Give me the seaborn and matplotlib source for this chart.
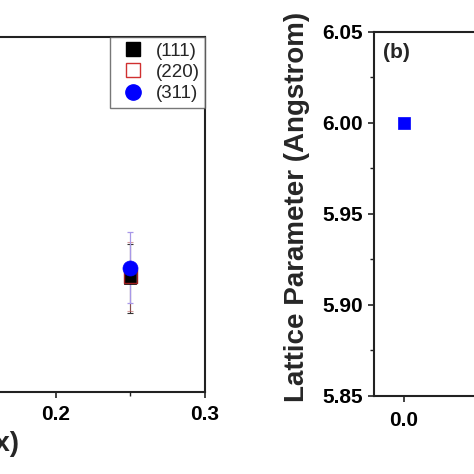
import matplotlib
matplotlib.use("Agg")
import matplotlib.pyplot as plt
from matplotlib.lines import Line2D
from matplotlib.ticker import MultipleLocator, FormatStrFormatter
import seaborn as sns

# panel (a): lattice parameter per reflection vs composition
comp_x = [0.25]
lp_111 = [5.914]
err_111 = [0.0195]
lp_220 = [5.915]
err_220 = [0.0195]
lp_311 = [5.920]
err_311 = [0.020]

# panel (b): lattice parameter vs composition
comp_b = [0.0]
lp_b = [6.00]

sns.set_style("ticks")
plt.rcParams["font.family"] = ["Liberation Sans", "DejaVu Sans"]

fig = plt.figure(figsize=(4.74, 4.74), dpi=100)
ax1 = fig.add_axes([-0.5738, 0.1730, 1.0063, 0.7489])
ax2 = fig.add_axes([0.7890, 0.1646, 1.0063, 0.7679])

# --- panel (a) ---
ax1.errorbar(comp_x, lp_111, yerr=err_111, fmt="none", ecolor="#333333",
             elinewidth=0.8, capsize=2.5, capthick=0.8, zorder=2)
ax1.errorbar(comp_x, lp_220, yerr=err_220, fmt="none", ecolor="#c06060",
             elinewidth=0.8, capsize=2.5, capthick=0.8, alpha=0.6, zorder=2)
ax1.errorbar(comp_x, lp_311, yerr=err_311, fmt="none", ecolor="#a898e8",
             elinewidth=0.9, capsize=2.5, capthick=0.9, zorder=2)
sns.scatterplot(x=comp_x, y=lp_111, ax=ax1, marker="s", s=81, color="black",
                edgecolor="black", linewidth=0.5, zorder=3)
sns.scatterplot(x=comp_x, y=lp_220, ax=ax1, marker="s", s=81, color="none",
                edgecolor="#a02020", linewidth=1.0, zorder=4)
sns.scatterplot(x=comp_x, y=lp_311, ax=ax1, marker="o", s=117, color="#0000ff",
                edgecolor="#0000ff", linewidth=0.5, zorder=5)

ax1.set_xlim(-0.02, 0.3)
ax1.set_ylim(5.85, 6.05)
ax1.xaxis.set_major_locator(MultipleLocator(0.1))
ax1.xaxis.set_minor_locator(MultipleLocator(0.05))
ax1.xaxis.set_major_formatter(FormatStrFormatter("%.1f"))
ax1.set_xlabel("Composition (x)", fontsize=20, fontweight="bold", ha="right", va="center")
ax1.xaxis.set_label_coords(0.610, -0.146)

handles = [
    Line2D([], [], ls="none", marker="s", ms=9.5, mfc="black", mec="black"),
    Line2D([], [], ls="none", marker="s", ms=9.5, mfc="white", mec="#d03030", mew=1.0),
    Line2D([], [], ls="none", marker="o", ms=11, mfc="#0000ff", mec="#0000ff"),
]
leg = ax1.legend(handles, ["(111)", "(220)", "(311)"], loc="upper right",
                 bbox_to_anchor=(1, 1), borderaxespad=0, fontsize=13.5,
                 frameon=True, fancybox=False, borderpad=0.3, handlelength=1.8,
                 handletextpad=0.3, labelspacing=0.22)
leg.get_frame().set_edgecolor("#555555")
leg.get_frame().set_linewidth(1.0)

# --- panel (b) ---
sns.scatterplot(x=comp_b, y=lp_b, ax=ax2, marker="s", s=81, color="#0000ff",
                edgecolor="#0000ff", linewidth=0.5, zorder=3)
ax2.set_xlim(-0.02, 0.3)
ax2.set_ylim(5.85, 6.05)
ax2.xaxis.set_major_locator(MultipleLocator(0.1))
ax2.xaxis.set_minor_locator(MultipleLocator(0.05))
ax2.xaxis.set_major_formatter(FormatStrFormatter("%.1f"))
ax2.yaxis.set_major_locator(MultipleLocator(0.05))
ax2.yaxis.set_minor_locator(MultipleLocator(0.025))
ax2.yaxis.set_major_formatter(FormatStrFormatter("%.2f"))
ax2.set_ylabel("Lattice Parameter (Angstrom)", fontsize=20, fontweight="bold", va="center")
ax2.yaxis.set_label_coords(-0.161, 0.519)
ax2.text(0.048, 0.945, "(b)", transform=ax2.transAxes, fontsize=15,
         fontweight="bold", ha="center", va="center")

for ax in (ax1, ax2):
    for sp in ax.spines.values():
        sp.set_visible(True)
        sp.set_color("#222222")
        sp.set_linewidth(1.5)
    ax.tick_params(which="major", direction="out", length=4.5, width=1.2,
                   colors="#222222", labelsize=15, labelcolor="black")
    ax.tick_params(which="minor", direction="out", length=2.8, width=1.0,
                   colors="#222222")
    ax.tick_params(top=False, right=False, which="both")
    for lab in ax.get_xticklabels() + ax.get_yticklabels():
        lab.set_fontweight("bold")
ax1.tick_params(axis="x", pad=5)
ax2.tick_params(axis="x", pad=6)
ax2.tick_params(axis="y", pad=3.5)

fig.savefig("out.png", dpi=100)
